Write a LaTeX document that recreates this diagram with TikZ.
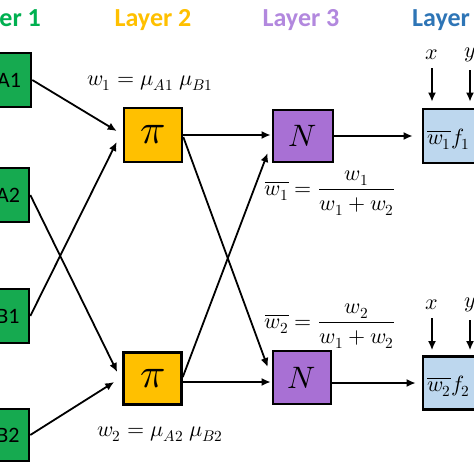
\documentclass[tikz,border=0pt]{standalone}
\usepackage{fontspec}
\usepackage{unicode-math}
\newfontfamily\calfont{Carlito}
\usetikzlibrary{arrows.meta}
\definecolor{gbox}{RGB}{22,170,80}
\definecolor{gttl}{RGB}{0,176,80}
\definecolor{obox}{RGB}{255,192,0}
\definecolor{pbox}{RGB}{168,112,212}
\definecolor{pttl}{RGB}{178,136,222}
\definecolor{bbox}{RGB}{189,215,238}
\definecolor{bttl}{RGB}{46,117,182}
\begin{document}
\begin{tikzpicture}[x=1pt,y=-1pt,
  box/.style={draw=black,line width=2.6pt,minimum width=58pt,minimum height=54pt,inner sep=0pt},
  arr/.style={line width=1.8pt,-{Latex[length=9pt,width=8pt]}},
  ttl/.style={font=\calfont\bfseries\fontsize{26}{30}\selectfont,inner sep=0pt},
  mlab/.style={font=\fontsize{22}{26}\selectfont,inner sep=0pt},
  glab/.style={font=\calfont\fontsize{22}{26}\selectfont}]
\useasboundingbox (0,0) rectangle (474,474);
\clip (0,0) rectangle (474,474);
% titles
\node[ttl,text=gttl,anchor=east] (T1) at (41,20) {Layer 1};
\node[ttl,text=obox] (T2) at (153,20) {Layer 2};
\node[ttl,text=pttl] (T3) at (301,20) {Layer 3};
\node[ttl,text=bttl,anchor=west] (T4) at (412,20) {Layer 4};
% layer 1
\node[box,fill=gbox,minimum width=44pt] (A1) at (9,80) {\calfont\fontsize{22}{26}\selectfont A1};
\node[box,fill=gbox,minimum width=42pt] (A2) at (8,195) {\calfont\fontsize{22}{26}\selectfont A2};
\node[box,fill=gbox,minimum width=42pt] (B1) at (8,316) {\calfont\fontsize{22}{26}\selectfont B1};
\node[box,fill=gbox,minimum width=42pt,minimum height=52pt] (B2) at (8,435) {\calfont\fontsize{22}{26}\selectfont B2};
% layer 2
\node[box,fill=obox] (P1) at (153,135) {\fontsize{42}{46}\selectfont$\pi$};
\node[box,fill=obox,minimum height=52pt] (P2) at (152.5,378.5) {\fontsize{42}{46}\selectfont$\pi$};
% layer 3
\node[box,fill=pbox,minimum width=60pt,minimum height=52pt] (N1) at (303,136) {\fontsize{31}{34}\selectfont$N$};
\node[box,fill=pbox,minimum height=53pt] (N2) at (302,377.5) {\fontsize{31}{34}\selectfont$N$};
% layer 4
\node[box,fill=bbox,minimum width=66pt] (L1) at (456,136) {};
\node[box,fill=bbox,minimum width=66pt,minimum height=53pt] (L2) at (456,383) {};
\node[mlab,anchor=west] (L1t) at (427,139) {$\overline{w_1}f_1$};
\node[mlab,anchor=west] (L2t) at (427,386) {$\overline{w_2}f_2$};
% labels
\node[mlab] (w1) at (150,83) {$w_1=\mu_{A1}\;\mu_{B1}$};
\node[mlab] (w2) at (160,434) {$w_2=\mu_{A2}\;\mu_{B2}$};
\node[mlab] (f1) at (330,193) {$\overline{w_1}=\dfrac{w_1}{w_1+w_2}$};
\node[mlab] (f2) at (330,326) {$\overline{w_2}=\dfrac{w_2}{w_1+w_2}$};
% inputs x y
\node[mlab] (x1) at (432,55) {$x$};
\node[mlab] (y1) at (470,55) {$y$};
\node[mlab] (x2) at (432,305) {$x$};
\node[mlab] (y2) at (470,305) {$y$};
\draw[arr,shorten <=8pt,shorten >=6pt] (x1) -- (x1 |- L1.north);
\draw[arr,line width=2.8pt,shorten <=8pt,shorten >=6pt] (y1) -- (y1 |- L1.north);
\draw[arr,shorten <=8pt,shorten >=5pt] (x2) -- (x2 |- L2.north);
\draw[arr,line width=2.8pt,shorten <=8pt,shorten >=5pt] (y2) -- (y2 |- L2.north);
% layer 1 -> layer 2
\draw[arr] (A1.east) -- ([xshift=-6pt,yshift=4pt]P1.west);
\draw[arr] (B1.east) -- ([xshift=-6pt,yshift=-7pt]P1.west);
\draw[arr] (A2.east) -- ([xshift=-5pt,yshift=6.5pt]P2.west);
\draw[arr] (B2.east) -- ([xshift=-8pt,yshift=-3.5pt]P2.west);
% layer 2 -> layer 3
\draw[arr,shorten >=1pt] (P1.east) -- (P1.east -| N1.west);
\draw[arr] ([yshift=-2pt]P1.east) -- ([xshift=-4pt,yshift=10.5pt]N2.west);
\draw[arr] ([yshift=1.5pt]P2.east) -- ([xshift=-4pt,yshift=-17pt]N1.west);
\draw[arr,shorten >=1pt] ([yshift=-3.5pt]P2.east) -- ([yshift=-3.5pt]P2.east -| N2.west);
% layer 3 -> layer 4
\draw[arr,shorten >=9pt] (N1.east) -- (N1.east -| L1.west);
\draw[arr,shorten >=6pt] (N2.east |- L2.west) -- (L2.west);
\end{tikzpicture}
\end{document}
